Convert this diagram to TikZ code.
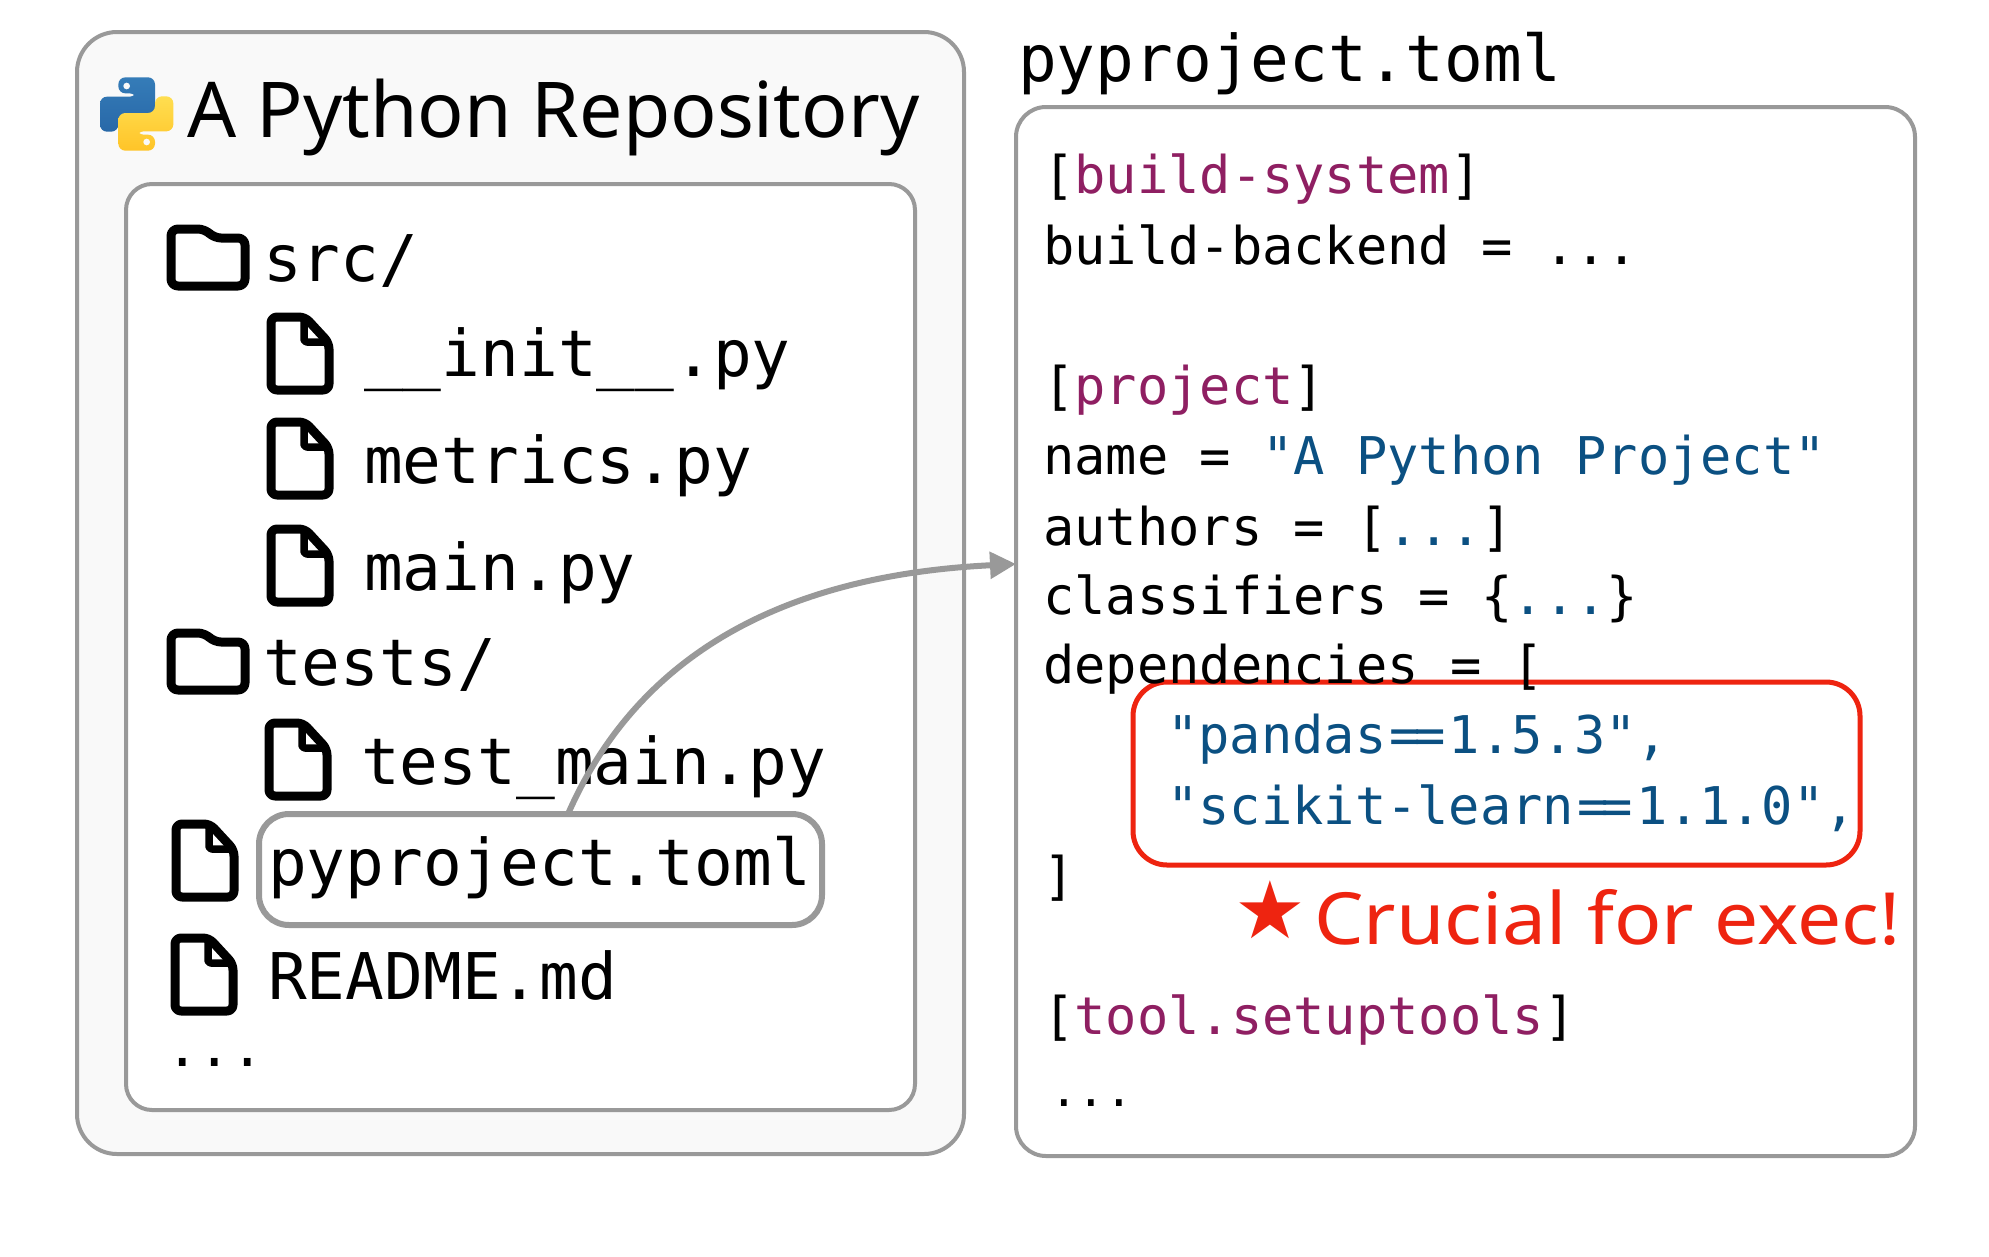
\documentclass[tikz,border=0pt]{standalone}
\usepackage{fontspec}
\usetikzlibrary{arrows.meta}
\setmainfont{Noto Sans}
\newfontfamily\codefont{DejaVu Sans Mono}
\newfontfamily\starfont{DejaVu Sans}
\newfontfamily\notefont[FakeStretch=1.09]{Noto Sans}
\definecolor{boxgray}{HTML}{999999}
\definecolor{panelbg}{HTML}{F9F9F9}
\definecolor{kwpurple}{HTML}{8F1F62}
\definecolor{strblue}{HTML}{0B5082}
\definecolor{alertred}{HTML}{EE2410}
\newcommand{\kw}[1]{\textcolor{kwpurple}{#1}}
\newcommand{\st}[1]{\textcolor{strblue}{#1}}
\newcommand{\eqeq}{\kern.07em=\kern-.14em=\kern.07em}
\tikzset{
  panel/.style={draw=boxgray,rounded corners=#1,inner sep=0pt,outer sep=0pt,line width=4pt},
  bigcode/.style={anchor=base west,inner sep=0pt,font=\codefont\fontsize{64.4}{70}\selectfont},
  smallcode/.style={anchor=base west,inner sep=0pt,font=\codefont\fontsize{52}{56}\selectfont},
  pics/fileicon/.style={code={
    \draw[black,line width=9pt,rounded corners=6pt,line join=round]
      (4,4) -- (38,4) -- (62,30) -- (62,77) -- (4,77) -- cycle;
    \draw[black,line width=7.5pt,line join=round]
      (37,4) -- (37,27) [rounded corners=3pt] -- (37,29) -- (62,29);
  }},
  pics/foldericon/.style={code={
    \draw[black,line width=9pt,rounded corners=7pt,line join=round]
      (4,4) -- (38,4) -- (47,13) -- (78,13) -- (78,61) -- (4,61) -- cycle;
  }},
}
\begin{document}
\begin{tikzpicture}[x=1pt,y=-1pt]
\useasboundingbox[fill=white] (0,0) rectangle (1989,1256);
% panels
\node[panel=40pt,fill=panelbg,minimum width=887pt,minimum height=1122pt] (repo) at (520.5,593) {};
\node[panel=26pt,fill=white,minimum width=789pt,minimum height=926pt] (tree) at (520.5,647) {};
\node[panel=30pt,fill=white,minimum width=899pt,minimum height=1049pt] (code) at (1465.5,631.5) {};
\node[panel=30pt,fill=white,line width=6pt,minimum width=563pt,minimum height=111pt] (toml) at (540.5,869.5) {};
\node[draw=alertred,rounded corners=34pt,line width=5pt,inner sep=0pt,minimum width=727pt,minimum height=183pt] (crucial) at (1496.5,773.5) {};
% python logo
\begin{scope}[shift={(90,60)},scale=1/3]
  \path[rounded corners=7pt,top color={rgb,255:red,53;green,124;blue,184},bottom color={rgb,255:red,40;green,104;blue,168}]
    (85,52) -- (195,52) -- (195,165) -- (85,165) -- (85,215) -- (30,215) -- (30,110) -- (140,110) -- (140,100) -- (85,100) -- cycle;
  \path[rounded corners=7pt,top color={rgb,255:red,255;green,222;blue,80},bottom color={rgb,255:red,255;green,196;blue,40}]
    (195,272) -- (85,272) -- (85,159) -- (195,159) -- (195,109) -- (250,109) -- (250,214) -- (140,214) -- (140,224) -- (195,224) -- cycle;
  \fill[panelbg] (110,78) circle (10);
  \fill[panelbg] (170,246) circle (10);
\end{scope}
% title
\node[anchor=base west,inner sep=0pt,font=\fontsize{77}{84}\selectfont] (repotitle) at (187,137) {A Python Repository};
\node[bigcode] (codetitle) at (1018,81) {pyproject.toml};
% tree icons
\pic at (167,225) {foldericon};
\pic at (267,313) {fileicon};
\pic at (267,418) {fileicon};
\pic at (267,525) {fileicon};
\pic at (167,629) {foldericon};
\pic at (265,719) {fileicon};
\pic at (172,820) {fileicon};
\pic at (171,934) {fileicon};
% tree labels
\node[bigcode] (srcdir) at (263,281) {src/};
\node[bigcode] (initpy) at (364,376) {\_\_init\_\_.py};
\node[bigcode] (metrics) at (364,483) {metrics.py};
\node[bigcode] (mainpy) at (364,590) {main.py};
\node[bigcode] (testsdir) at (263,685) {tests/};
\node[bigcode] (testmain) at (361,784) {test\_main.py};
\node[bigcode] (tomlname) at (268,885) {pyproject.toml};
\node[bigcode] (readme) at (268,999) {README.md};
\node[anchor=base west,inner sep=0pt,font=\codefont\fontsize{54}{60}\selectfont] (treedots) at (166,1066) {...};
% code lines
\node[smallcode] (l1) at (1043,193) {[\kw{build-system}]};
\node[smallcode] (l2) at (1043,264) {build-backend = ...};
\node[smallcode] (l3) at (1043,404) {[\kw{project}]};
\node[smallcode] (l4) at (1043,474) {name = \st{"A Python Project"}};
\node[smallcode] (l5) at (1043,545) {authors = [\st{...}]};
\node[smallcode] (l6) at (1043,614) {classifiers = \{\st{...}\}};
\node[smallcode] (l7) at (1043,683) {dependencies = [};
\node[smallcode] (l8) at (1167,753) {\st{"pandas\eqeq1.5.3",}};
\node[smallcode] (l9) at (1167,824) {\st{"scikit-learn\eqeq1.1.0",}};
\node[smallcode] (l10) at (1043,894) {]};
\node[smallcode] (l11) at (1043,1034) {[\kw{tool.setuptools}]};
\node[anchor=base west,inner sep=0pt,font=\codefont\fontsize{46}{50}\selectfont] (l12) at (1050,1106) {...};
% annotation
\node[anchor=base west,inner sep=0pt,text=alertred,font=\starfont\fontsize{80}{86}\selectfont] (star) at (1234,938) {★};
\node[anchor=base west,inner sep=0pt,text=alertred,font=\notefont\fontsize{72}{80}\selectfont] (note) at (1314,944) {Crucial for exec!};
% connector
\draw[boxgray,line width=6pt,-{Triangle[length=26pt,width=26pt]}]
  ([xshift=27.5pt]toml.north) .. controls (640,650) and (790,575) .. ([yshift=67.5pt]code.west);
\end{tikzpicture}
\end{document}
